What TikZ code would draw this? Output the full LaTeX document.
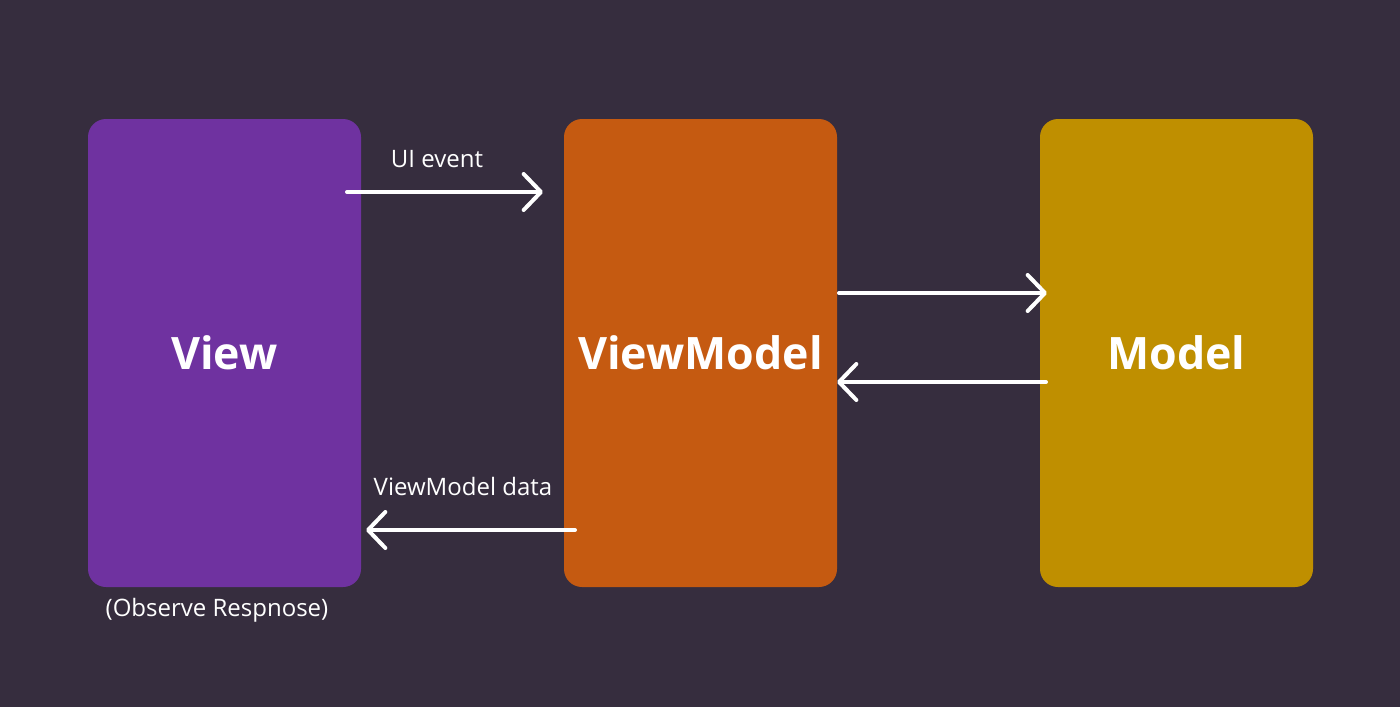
\documentclass[tikz,border=0pt]{standalone}
\usepackage{fontspec}
\setmainfont{Open Sans}
\usetikzlibrary{arrows.meta}
\definecolor{bg}{HTML}{362D3E}
\definecolor{cview}{HTML}{6F32A0}
\definecolor{cvm}{HTML}{C55A11}
\definecolor{cmodel}{HTML}{BF8F00}
\tikzset{
  panel/.style={draw=none, rounded corners=13.5pt, minimum width=204.75pt, minimum height=351pt, inner sep=0pt, text=white, font=\bfseries\fontsize{33.5}{40}\selectfont},
  flow/.style={draw=white, line width=3pt, line cap=round, -{Straight Barb[length=13pt, width=27pt, line width=3pt, round]}},
  lbl/.style={text=white, font=\fontsize{18}{21}\selectfont, inner sep=0pt}
}
\begin{document}
\begin{tikzpicture}[x=0.75pt, y=-0.75pt]
\useasboundingbox (0,0) rectangle (1400,707);
\fill[bg] (0,0) rectangle (1400,707);
\node[panel, fill=cview] (view) at (224.5,353) {View};
\node[panel, fill=cvm] (vm) at (700.5,353) {ViewModel};
\node[panel, fill=cmodel] (model) at (1176.5,353) {Model};
\coordinate (a1s) at (347,192);
\coordinate (a1e) at (543,192);
\coordinate (a2s) at (839,293);
\coordinate (a2e) at (1047,293);
\coordinate (a3s) at (1046,382);
\coordinate (a3e) at (837,382);
\coordinate (a4s) at (575,530);
\coordinate (a4e) at (366,530);
\draw[flow] (a1s) -- (a1e);
\draw[flow] (a2s) -- (a2e);
\draw[flow] (a3s) -- (a3e);
\draw[flow] (a4s) -- (a4e);
\node[lbl] (ui) at (437,159) {UI event};
\node[lbl] (vmd) at (463,486) {ViewModel data};
\node[lbl] (obs) at (217,610) {(Observe Respnose)};
\end{tikzpicture}
\end{document}
